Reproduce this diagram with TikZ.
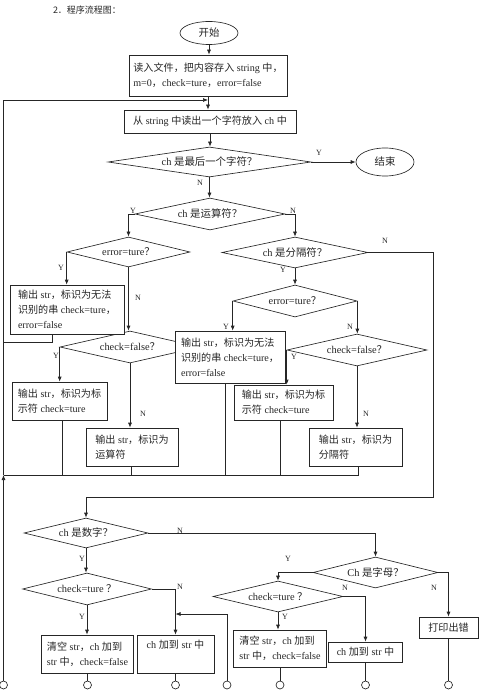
\documentclass[tikz,border=0pt]{standalone}
\usepackage{fontspec}
\setmainfont{Liberation Serif}
\newfontfamily\cjkf{Noto Sans CJK SC}
\newcommand\zh[1]{{\cjkf #1}}
\usetikzlibrary{shapes.geometric,arrows.meta}
\begin{document}
\begin{tikzpicture}[x=1pt,y=-1pt,line width=0.65pt,color=black!85,
  box/.style={draw, fill=white, rectangle, inner sep=0pt, align=left, font=\fontsize{10.1}{15}\selectfont},
  dia/.style={draw, fill=white, diamond, aspect=6.5, inner sep=0pt, font=\fontsize{10.4}{12}\selectfont},
  term/.style={draw, ellipse, inner sep=0pt, font=\fontsize{10.4}{12}\selectfont},
  lbl/.style={inner sep=0pt, font=\fontsize{8}{8}\selectfont},
  conn/.style={draw, circle, minimum size=8pt, inner sep=0pt, fill=white},
  arr/.style={-{Latex[length=5pt,width=4pt]}}]
\useasboundingbox (0,0) rectangle (479,692);
\node[inner sep=0pt, font=\fontsize{9}{9}\selectfont] (title) at (87,10) {\zh{2．程序流程图：}};
% terminals and diamonds
\node[term, minimum width=58pt, minimum height=23pt] (start) at (209,33) {\zh{开始}};
\node[dia, minimum width=203pt, minimum height=30pt] (d1) at (209.5,162) {ch \zh{是最后一个字符？}};
\node[term, minimum width=58pt, minimum height=28pt] (end) at (385,162) {\zh{结束}};
\node[dia, aspect=5, minimum width=150pt, minimum height=32pt] (d2) at (210,214) {ch \zh{是运算符？}};
\node[dia, aspect=5, minimum width=123pt, minimum height=30pt] (d3) at (128.5,252) {error=ture\zh{？}};
\node[dia, aspect=5, minimum width=146pt, minimum height=31pt] (d4) at (295,252.5) {ch \zh{是分隔符？}};
\node[dia, aspect=5, minimum width=124pt, minimum height=32pt] (d5) at (295,301) {error=ture\zh{？}};
\node[dia, aspect=5, minimum width=140pt, minimum height=32pt] (d6) at (357,350) {check=false\zh{？}};
\node[dia, aspect=5, minimum width=140pt, minimum height=32pt] (d7) at (130,347) {check=false\zh{？}};
\node[dia, aspect=5, minimum width=124pt, minimum height=30pt] (d8) at (86,533) {ch \zh{是数字？}};
\node[dia, aspect=5, minimum width=129pt, minimum height=32pt] (d9) at (87,589) {check=ture \zh{？}};
\node[dia, aspect=5, minimum width=125pt, minimum height=31pt] (d10) at (375.5,572.5) {Ch \zh{是字母？}};
\node[dia, aspect=5, minimum width=130pt, minimum height=31pt] (d11) at (278,596.5) {check=ture \zh{？}};
% boxes
\node[box, minimum width=158pt, minimum height=41pt] (box1) at (208,75.5) {\zh{读入文件，把内容存入} string \zh{中，}\\m=0\zh{，}check=ture\zh{，}error=false};
\node[box, minimum width=172pt, minimum height=23pt] (box2) at (210,121.5) {\zh{从} string \zh{中读出一个字符放入} ch \zh{中}};
\node[box, minimum width=114pt, minimum height=49pt] (boxL1) at (67,309.5) {\zh{输出} str\zh{，标识为无法}\\\zh{识别的串} check=ture\zh{，}\\error=false};
\node[box, minimum width=110pt, minimum height=52pt] (boxR1) at (230,357) {\zh{输出} str\zh{，标识为无法}\\\zh{识别的串} check=ture\zh{，}\\error=false};
\node[box, minimum width=95pt, minimum height=38pt] (boxL2) at (59.5,401) {\zh{输出} str\zh{，标识为标}\\\zh{示符} check=ture};
\node[box, minimum width=92pt, minimum height=38pt] (boxL3) at (132,447) {\zh{输出} str\zh{，标识为}\\\zh{运算符}};
\node[box, minimum width=99pt, minimum height=35pt] (boxR2) at (283.5,402.5) {\zh{输出} str\zh{，标识为标}\\\zh{示符} check=ture};
\node[box, minimum width=93pt, minimum height=38pt] (boxR3) at (355.5,447) {\zh{输出} str\zh{，标识为}\\\zh{分隔符}};
\node[box, minimum width=92pt, minimum height=38pt] (boxB1) at (87.5,654) {\zh{清空} str\zh{，}ch \zh{加到}\\str \zh{中，}check=false};
\node[box, minimum width=77pt, minimum height=38pt] (boxB2) at (175.5,654) {ch \zh{加到} str \zh{中}\\\strut};
\node[box, minimum width=93pt, minimum height=37pt] (boxB3) at (280,648.5) {\zh{清空} str\zh{，}ch \zh{加到}\\str \zh{中，}check=false};
\node[box, minimum width=74pt, minimum height=20pt] (boxB4) at (365.5,652) {ch \zh{加到} str \zh{中}};
\node[box, minimum width=59pt, minimum height=21pt] (boxB5) at (448.5,627.5) {\zh{打印出错}};
% connectors (circles)
\node[conn] (c1) at (3.5,685) {};
\node[conn] (c2) at (87.5,685) {};
\node[conn] (c3) at (175.5,685) {};
\node[conn] (c4) at (227,685) {};
\node[conn] (c5) at (280,685) {};
\node[conn] (c6) at (365.5,685) {};
\node[conn] (c7) at (448.5,685) {};
% helper coordinates
\coordinate (fb) at (3.5,100);
\coordinate (jL) at (3.5,475);
\coordinate (jL1) at (3.5,342);
\coordinate (nr) at (433,497);
\coordinate (j4) at (175.5,614);
% main flow
\draw[arr] (start.south) -- (start.south |- box1.north);
\draw[arr] (box1.south) -- (box1.south |- box2.north);
\draw[arr] (box2.south) -- (box2.south |- d1.north);
\draw[arr] (c1) -- (jL);
\draw[arr] (jL) -- (fb) -- (box1.south |- fb);
\draw ([xshift=-15pt]boxL1.south) |- (jL1);
\draw[arr] (d1.east) -- (end.west);
\draw[arr] (d1.south) -- (d1.south |- d2.north);
\draw[arr] (d2.west) -| (d3.north);
\draw[arr] (d2.east) -| (d4.north);
\draw[arr] (d4.east) -| (nr) -| (d8.north);
\draw[arr] (d4.south) -- (d5.north);
\draw[arr] (d3.west) -- (d3.west |- boxL1.north);
\draw[arr] (d3.south) -- (d3.south |- d7.north);
\draw[arr] (d7.west) -- (d7.west |- boxL2.north);
\draw[arr] (d7.south) -- (d7.south |- boxL3.north);
\draw[arr] (d5.west) -- (d5.west |- boxR1.north);
\draw[arr] (d5.east) -- (d5.east |- d6.north);
\draw[arr] (d6.west) -- (d6.west |- boxR2.north);
\draw[arr] (d6.south) -- (d6.south |- boxR3.north);
% collection line
\draw ([xshift=2.5pt]boxL2.south) -- ([xshift=2.5pt]boxL2.south |- jL);
\draw ([xshift=-1pt]boxL3.south) -- ([xshift=-1pt]boxL3.south |- jL);
\draw ([xshift=-5pt]boxR1.south) -- ([xshift=-5pt]boxR1.south |- jL);
\draw ([xshift=-3.5pt]boxR2.south) -- ([xshift=-3.5pt]boxR2.south |- jL);
\draw ([xshift=2.5pt]boxR3.south) |- (jL);
% bottom part
\draw[arr] (d8.east) -| (d10.north);
\draw[arr] (d8.south) -- (d8.south |- d9.north);
\draw[arr] (d9.east) -| (boxB2.north);
\draw[arr] (c4) |- (j4);
\draw[arr] (d9.south) -- (d9.south |- boxB1.north);
\draw (boxB1.south) -- (c2);
\draw (boxB2.south) -- (c3);
\draw[arr] (d10.west) -| (d11.north);
\draw[arr] (d10.east) -| (boxB5.north);
\draw[arr] (d11.east) -| (boxB4.north);
\draw[arr] (d11.south) -- (d11.south |- boxB3.north);
\draw (boxB3.south) -- (c5);
\draw (boxB4.south) -- (c6);
\draw (boxB5.south) -- (c7);
% labels
\node[lbl] (l1y) at (319,153) {Y};
\node[lbl] (l1n) at (200,183) {N};
\node[lbl] (l2y) at (133,211) {Y};
\node[lbl] (l2n) at (293,211) {N};
\node[lbl] (l3y) at (61,268) {Y};
\node[lbl] (l3n) at (138,298) {N};
\node[lbl] (l4n) at (385,241) {N};
\node[lbl] (l4y) at (283,270) {Y};
\node[lbl] (l5y) at (226,327) {Y};
\node[lbl] (l5n) at (350,327) {N};
\node[lbl] (l6y) at (294,357) {Y};
\node[lbl] (l6n) at (366,414) {N};
\node[lbl] (l7y) at (56,356) {Y};
\node[lbl] (l7n) at (143,414) {N};
\node[lbl] (l8n) at (180,531) {N};
\node[lbl] (l8y) at (82,559) {Y};
\node[lbl] (l9n) at (180,587) {N};
\node[lbl] (l9y) at (82,617) {Y};
\node[lbl] (l10y) at (288,559) {Y};
\node[lbl] (l10n) at (434,588) {N};
\node[lbl] (l11n) at (345,588) {N};
\node[lbl] (l11y) at (285,617) {Y};
\end{tikzpicture}
\end{document}
